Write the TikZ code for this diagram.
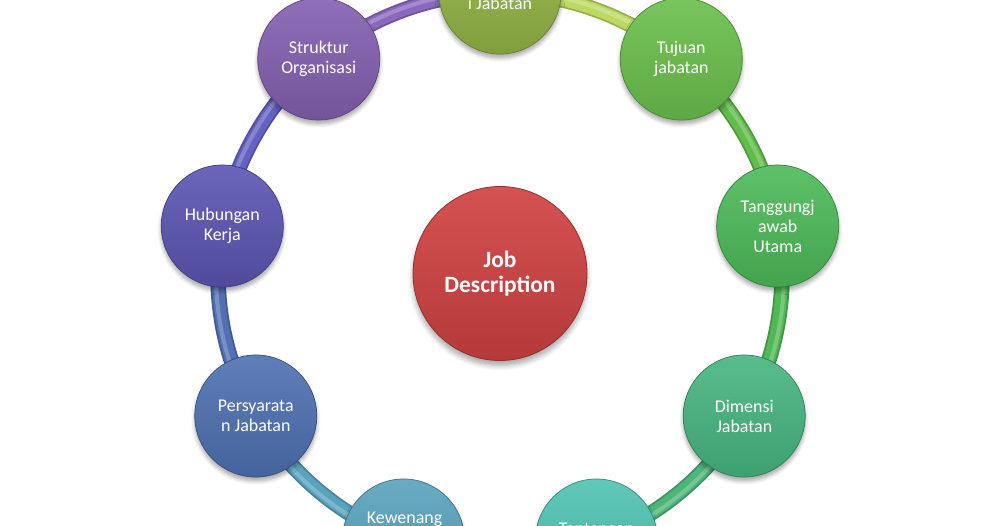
\documentclass[tikz,border=0pt]{standalone}
\usepackage{fontspec}
\setmainfont{Carlito}
\usetikzlibrary{shadows.blur,backgrounds}
\definecolor{c0}{HTML}{93B446}
\definecolor{c1}{HTML}{6ABF4B}
\definecolor{c2}{HTML}{4CBA58}
\definecolor{c3}{HTML}{47B57F}
\definecolor{c4}{HTML}{4EC3B1}
\definecolor{c5}{HTML}{58A2BD}
\definecolor{c6}{HTML}{4E70B1}
\definecolor{c7}{HTML}{5B55B2}
\definecolor{c8}{HTML}{8360B0}
\definecolor{t0}{HTML}{BCD964}
\definecolor{t1}{HTML}{62BD4C}
\definecolor{t2}{HTML}{50B955}
\definecolor{t3}{HTML}{4DB57A}
\definecolor{t4}{HTML}{50BCA8}
\definecolor{t5}{HTML}{5AA3BE}
\definecolor{t6}{HTML}{5270B4}
\definecolor{t7}{HTML}{6462C2}
\definecolor{t8}{HTML}{8A68BE}
\definecolor{hubred}{HTML}{D24343}
\tikzset{
  ball/.style={circle, minimum size=122bp, inner sep=0pt, draw=#1!70!black, line width=0.7bp,
    top color=#1!90!white, bottom color=#1!88!black,
    blur shadow={shadow xshift=0bp, shadow yshift=-4bp, shadow blur steps=6, shadow blur radius=4bp, shadow opacity=35}},
  lbl/.style={text=white, align=center, font=\fontsize{18}{20}\selectfont},
  hubball/.style={circle, minimum size=174bp, inner sep=0pt, draw=hubred!70!black, line width=0.8bp,
    top color=hubred!92!white, bottom color=hubred!86!black,
    blur shadow={shadow xshift=0bp, shadow yshift=-5bp, shadow blur steps=6, shadow blur radius=5bp, shadow opacity=35},
    text=white, align=center, font=\fontsize{23.5}{25}\selectfont\bfseries},
  tubeout/.style={line width=15.5bp, line cap=butt},
  tubein/.style={line width=12bp, line cap=butt},
  tubehi/.style={line width=4bp, line cap=butt, opacity=0.45}
}
\begin{document}
\begin{tikzpicture}[x=1bp,y=1bp]
\useasboundingbox (0,0) rectangle (1002,526);
% ring nodes
\node[ball=c0, lbl] (n0) at ({500+282*cos(90)},{251+282*sin(90)}) {};
\node[ball=c1, lbl] (n1) at ({500+282*cos(50)},{251+282*sin(50)}) {Tujuan\\jabatan};
\node[ball=c2, lbl] (n2) at ({500+282*cos(10)},{251+282*sin(10)}) {Tanggungj\\awab\\Utama};
\node[ball=c3, lbl] (n3) at ({500+282*cos(-30)},{251+282*sin(-30)}) {Dimensi\\Jabatan};
\node[ball=c4, lbl] (n4) at ({500+282*cos(-70)},{251+282*sin(-70)}) {};
\node[ball=c5, lbl] (n5) at ({500+282*cos(-110)},{251+282*sin(-110)}) {};
\node[ball=c6, lbl] (n6) at ({500+282*cos(-150)},{251+282*sin(-150)}) {Persyarata\\n Jabatan};
\node[ball=c7, lbl] (n7) at ({500+282*cos(170)},{251+282*sin(170)}) {Hubungan\\Kerja};
\node[ball=c8, lbl] (n8) at ({500+282*cos(130)},{251+282*sin(130)}) {Struktur\\Organisasi};
% partly visible texts of the cut-off nodes
\node[lbl, anchor=base] (l0) at (n0.center |- 0,516.5) {i Jabatan};
\node[lbl, anchor=base] (l4) at (n4.center |- 0,-8.5) {Tantangan};
\node[lbl, anchor=base] (l5) at ([xshift=1bp]n5.center |- 0,2.5) {Kewenang};
% centre
\node[hubball] (hub) at (500,252.5) {Job\\Description};
% ring connectors: segment from node i to node i+1 (clockwise) in colour t_i
\begin{scope}[on background layer]
  \foreach \i in {0,...,8}{
    \pgfmathsetmacro\s{90-40*\i}
    \pgfmathsetmacro\e{\s-40.2}
    \draw[tubeout, t\i!80!black] ({500+282*cos(\s)},{251+282*sin(\s)}) arc[start angle=\s, end angle=\e, radius=282];
  }
  \foreach \i in {0,...,8}{
    \pgfmathsetmacro\s{90-40*\i}
    \pgfmathsetmacro\e{\s-40.2}
    \draw[tubein, t\i] ({500+282*cos(\s)},{251+282*sin(\s)}) arc[start angle=\s, end angle=\e, radius=282];
    \draw[tubehi, t\i!50!white] ({500+284*cos(\s)},{251+284*sin(\s)}) arc[start angle=\s, end angle=\e, radius=284];
  }
\end{scope}
\end{tikzpicture}
\end{document}
